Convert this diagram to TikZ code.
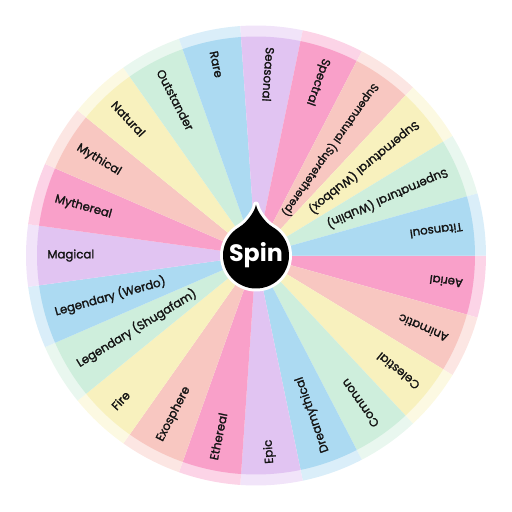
\documentclass[tikz,border=0pt]{standalone}
\usepackage{fontspec}
\setmainfont{Poppins}
\newfontfamily\wheelfont{Poppins}[FakeBold=1.6]
\usetikzlibrary{calc}

% slice colours, cycled in this order
\definecolor{seg0}{RGB}{249,160,201}
\definecolor{seg1}{RGB}{248,199,193}
\definecolor{seg2}{RGB}{248,241,190}
\definecolor{seg3}{RGB}{206,238,220}
\definecolor{seg4}{RGB}{172,218,242}
\definecolor{seg5}{RGB}{225,196,242}

\tikzset{
  slicelabel/.style={anchor=west, inner sep=0pt, text=black!92,
    font=\wheelfont\fontsize{#1}{8}\selectfont},
  spinlabel/.style={anchor=base, inner sep=0pt, text=white,
    font=\bfseries\fontsize{13.5}{14}\selectfont}
}

\newcommand{\droplet}{(0,51) .. controls (1,44) and (9.5,32.6) .. (60:33)
  arc[start angle=60, end angle=-240, radius=33]
  .. controls (-9.5,32.6) and (-1,44) .. (0,51) -- cycle}

\begin{document}
\begin{tikzpicture}[x=0.02cm,y=0.02cm]
\useasboundingbox (-256,-256.5) rectangle (256,255.5);
\def\wedge{15.6522}
\foreach \name [count=\i from 0] in {Aerial,Animatic,Celestial,Common,Dreamythical,Epic,Ethereal,Exosphere,Fire,Legendary (Shugafam),Legendary (Werdo),Magical,Mythereal,Mythical,Natural,Outstander,Rare,Seasonal,Spectral,Supernatural (Supretethered),Supernatural (Wubbox),Supernatural (Wublin),Titansoul}{
  \pgfmathtruncatemacro\k{mod(\i,6)}
  \pgfmathsetmacro\a{-\i*\wedge}
  \pgfmathsetmacro\b{-(\i+1)*\wedge}
  \pgfmathsetmacro\m{-(\i+0.5)*\wedge}
  \pgfmathsetmacro\fs{\i==19 ? 6.1 : 6.7}
  % rim and slice
  \fill[seg\k!45!white] (0,0) -- (\a:230) arc[start angle=\a, end angle=\b, radius=230] -- cycle;
  \fill[seg\k] (0,0) -- (\a:219) arc[start angle=\a, end angle=\b, radius=219] -- cycle;
  \node[slicelabel=\fs, rotate=\m+180] (label\i) at (\m:209) {\name};
}
% spin button
\path[draw=white, fill=white, line width=0.12cm, line join=round] \droplet;
\path[fill=black] \droplet;
\node[spinlabel] (spin) at (0,-6) {Spin};
\end{tikzpicture}
\end{document}
